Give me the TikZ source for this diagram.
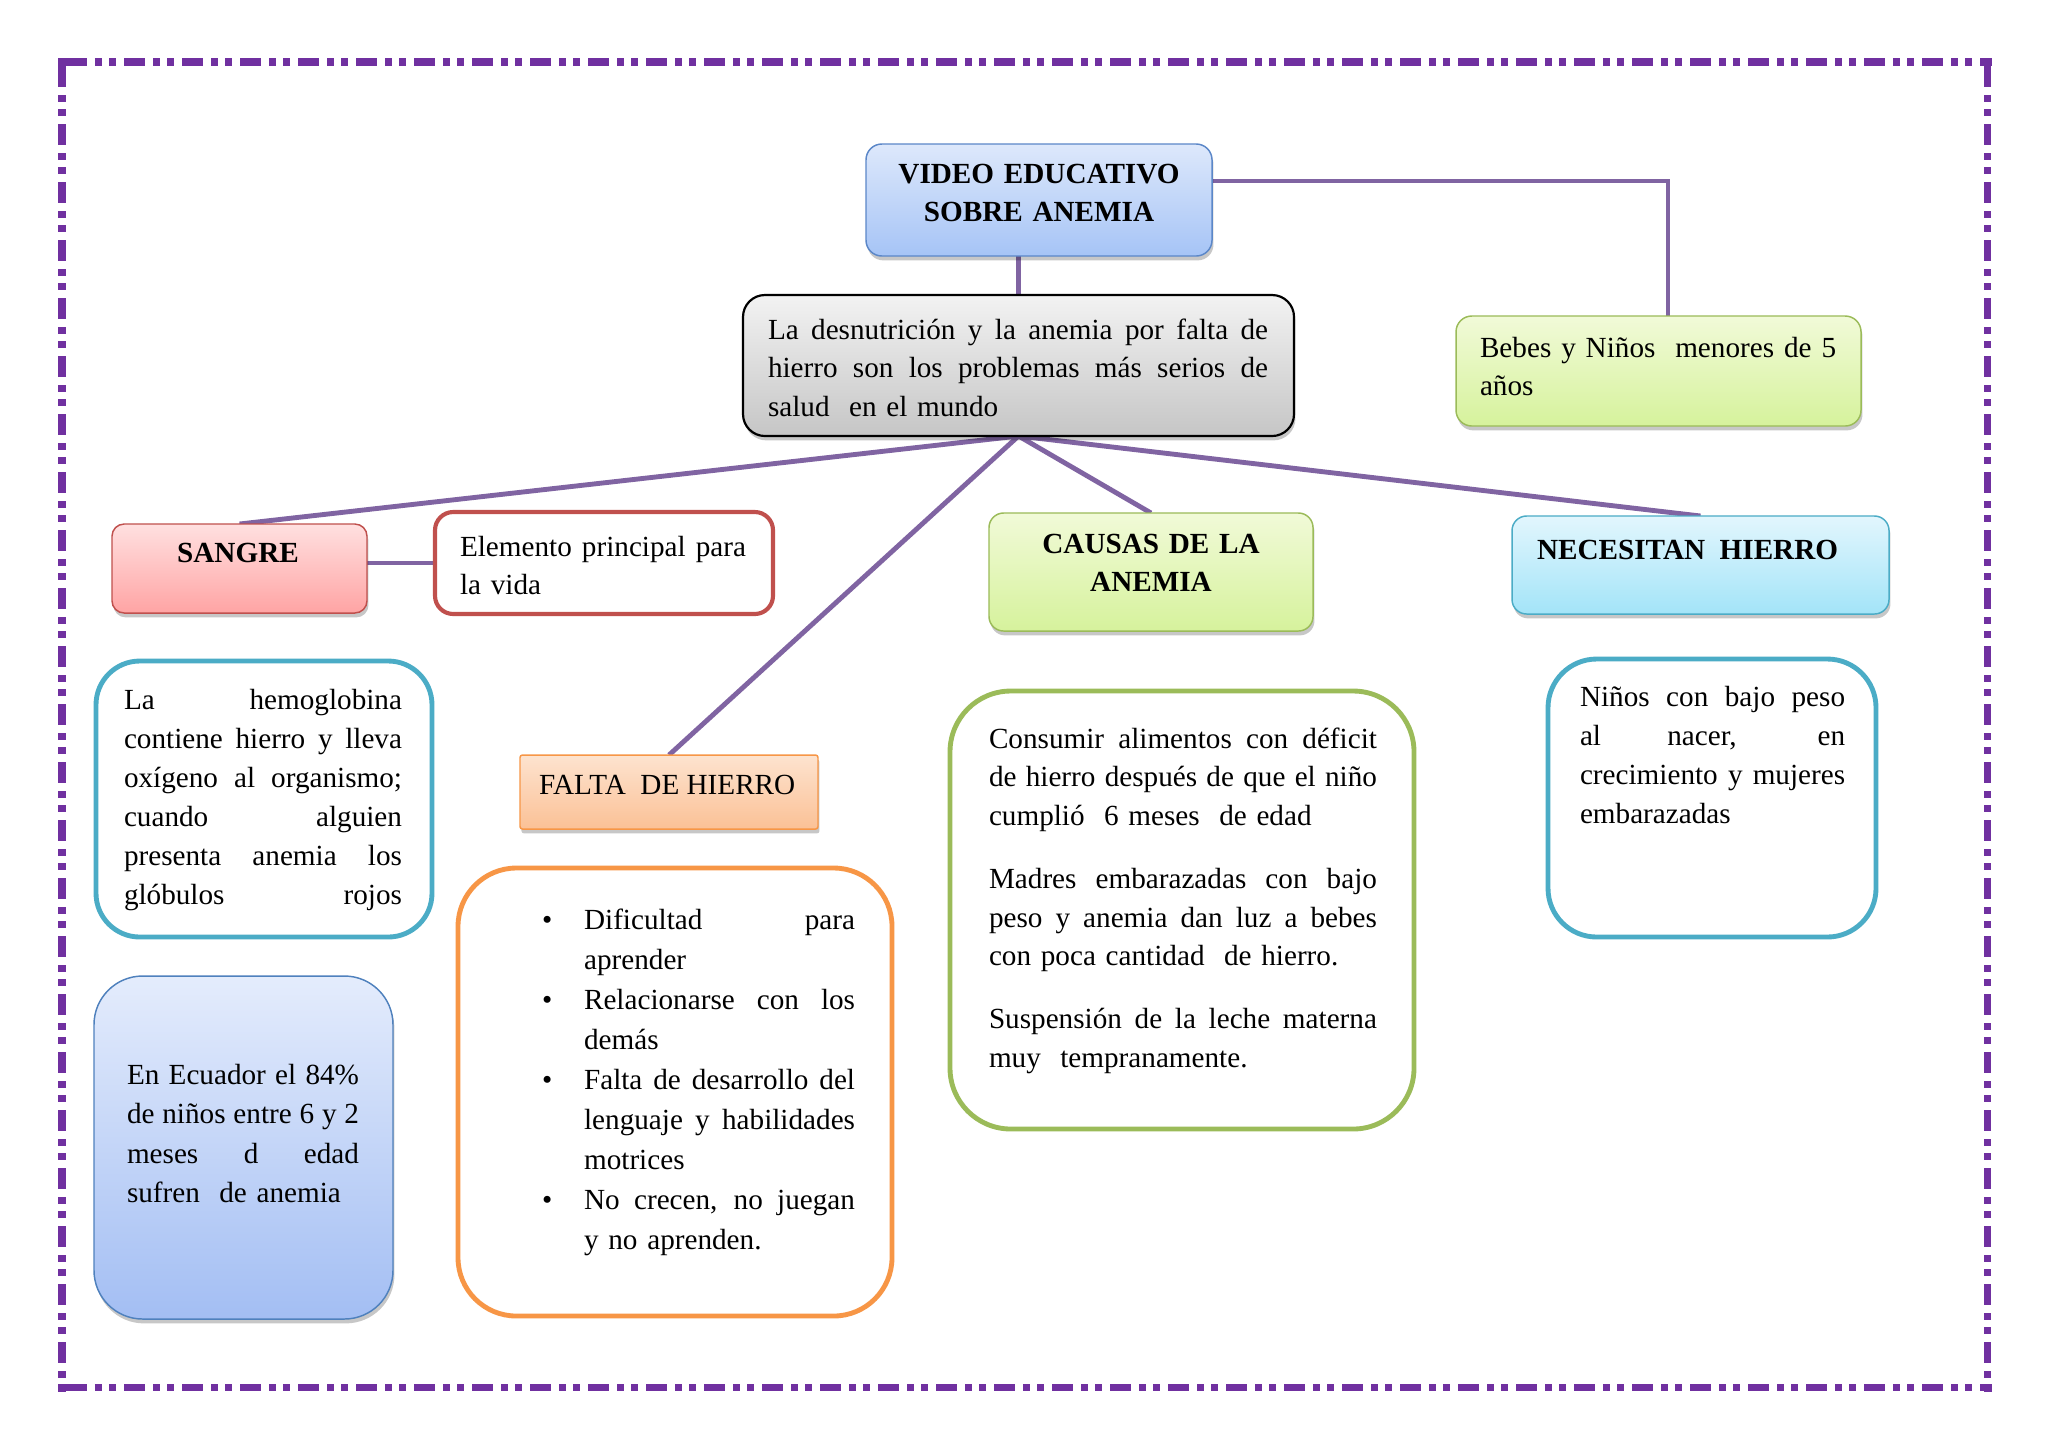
\documentclass[tikz,border=0pt]{standalone}
\usepackage{fontspec}
\setmainfont{Liberation Serif}
\usetikzlibrary{fit,shadows,calc}
\pgfdeclarelayer{paper}
\pgfdeclarelayer{bg}
\pgfsetlayers{paper,bg,main}
\definecolor{framec}{HTML}{7030A0}
\definecolor{connc}{HTML}{8064A2}
\definecolor{vidB}{HTML}{5B87C8}
\definecolor{vidT}{HTML}{DDE8FB}
\definecolor{vidBo}{HTML}{A6C4F6}
\definecolor{grnB}{HTML}{9BBB59}
\definecolor{grnT}{HTML}{F1FAD8}
\definecolor{grnBo}{HTML}{D6F29C}
\definecolor{redB}{HTML}{C0504D}
\definecolor{redT}{HTML}{FFE0E0}
\definecolor{redBo}{HTML}{FFA4A4}
\definecolor{cyanB}{HTML}{4BACC6}
\definecolor{cyanT}{HTML}{E2F6FD}
\definecolor{cyanBo}{HTML}{A3E4F8}
\definecolor{orB}{HTML}{F79646}
\definecolor{orT}{HTML}{FDE3CF}
\definecolor{orBo}{HTML}{FBC196}
\definecolor{ecB}{HTML}{4F81BD}
\definecolor{ecT}{HTML}{E4ECFC}
\definecolor{ecBo}{HTML}{A3BEF3}
\newcommand\jw[2]{{\spaceskip=0.25em plus 1fil\xspaceskip=0.25em plus 1fil\makebox[#1][s]{#2}}}
\newcommand\bul{\makebox[17.3pt][l]{\textbullet}}
\newcommand\ind{\hspace*{17.3pt}}
\tikzset{
  pageframe/.style={draw=framec, line width=3.08pt,
    dash pattern=on 8.63pt off 3.29pt on 2.88pt off 2.88pt on 2.88pt off 3.29pt},
  conn/.style={draw=connc, line width=2pt},
  shd/.style={drop shadow={shadow xshift=0.6pt, shadow yshift=-1.8pt, opacity=0.22, fill=black}},
  fbox/.style={inner sep=0pt, outer sep=0pt, line width=0.6pt},
  obox/.style={inner sep=0pt, outer sep=0pt, line width=2pt, fill=white},
  txt/.style={inner sep=0pt, outer sep=0pt, align=left, anchor=base west,
    font=\fontsize{12}{16}\selectfont},
  ttl/.style={inner sep=0pt, outer sep=0pt, align=center, anchor=base,
    font=\bfseries\fontsize{12}{16}\selectfont},
}
\begin{document}
\begin{tikzpicture}[x=0.41113pt, y=-0.41113pt]
\useasboundingbox (0,0) rectangle (2048,1448);
\begin{pgfonlayer}{paper}
\fill[white] (0,0) rectangle (2048,1448);
\end{pgfonlayer}

% page frame
\draw[pageframe] (66,62) -- (1984,62);
\draw[pageframe] (62,66) -- (62,1384);
\draw[pageframe] (1987.5,66) -- (1987.5,1384);
\draw[pageframe] (66,1387.5) -- (1984,1387.5);
\fill[framec] (58,58) rectangle (66,66);
\fill[framec] (1984,58) rectangle (1991.5,66);
\fill[framec] (58,1384) rectangle (66,1391.5);
\fill[framec] (1984,1384) rectangle (1991.5,1391.5);

% boxes
\node[fbox, shd, fit={(866,144)(1212,256)}, rounded corners=6.5pt, draw=vidB, top color=vidT, bottom color=vidBo] (video) {};
\node[fbox, shd, fit={(743,295)(1294,436)}, rounded corners=9pt, draw=black, line width=0.9pt, top color=gray!10, bottom color=gray!45] (grey) {};
\node[fbox, shd, fit={(1456,316)(1861,426)}, rounded corners=6.5pt, draw=grnB, top color=grnT, bottom color=grnBo] (bebes) {};
\node[fbox, shd, fit={(112,524)(367,613)}, rounded corners=5pt, draw=redB, top color=redT, bottom color=redBo] (sangre) {};
\node[obox, fit={(435,512)(773,614)}, rounded corners=7.5pt, draw=redB, line width=1.7pt] (elem) {};
\node[fbox, shd, fit={(989,513)(1313,631)}, rounded corners=6pt, draw=grnB, top color=grnT, bottom color=grnBo] (causas) {};
\node[fbox, shd, fit={(1512,516)(1889,614)}, rounded corners=6pt, draw=cyanB, top color=cyanT, bottom color=cyanBo] (nec) {};
\node[fbox, shd, fit={(520,755)(818,829)}, rounded corners=1pt, draw=orB, top color=orT, bottom color=orBo] (falta) {};
\node[obox, fit={(96,661)(432,937)}, rounded corners=18pt, draw=cyanB] (hemo) {};
\node[fbox, shd, fit={(94,976)(393,1319)}, rounded corners=20pt, draw=ecB, top color=ecT, bottom color=ecBo] (ecua) {};
\node[obox, fit={(458,868)(892,1316)}, rounded corners=24pt, draw=orB] (lista) {};
\node[obox, fit={(950,691)(1414,1129)}, rounded corners=25pt, draw=grnB] (causT) {};
\node[obox, fit={(1548,659)(1876,937)}, rounded corners=20pt, draw=cyanB] (ninos) {};

% connectors
\begin{pgfonlayer}{bg}
\draw[conn] (video.south -| grey.north) -- (grey.north);
\draw[conn] ([yshift=7.8pt]video.east) -| ([xshift=3.9pt]bebes.north);
\draw[conn] (grey.south) -- (sangre.north);
\draw[conn] (grey.south) -- (falta.north);
\draw[conn] (grey.south) -- (causas.north);
\draw[conn] (grey.south) -- (nec.north);
\draw[conn] (elem.west -| sangre.east) -- (elem.west);
\end{pgfonlayer}

% texts
\node[ttl, text width=142.3pt] (videoTx) at (1039,183) {VIDEO EDUCATIVO\\SOBRE ANEMIA};
\node[txt, text width=205.6pt, font=\fontsize{12}{15.9}\selectfont] (greyTx) at (768,339) {%
\jw{205.6pt}{La desnutrición y la anemia por falta de}\\
\jw{205.6pt}{hierro son los problemas más serios de}\\
salud \ en el mundo};
\node[txt, text width=146.4pt] (bebesTx) at (1480,357) {%
\jw{146.4pt}{Bebes y Niños \ menores de 5}\\
años};
\node[ttl] (sangreTx) at (238,562) {SANGRE};
\node[txt, text width=117.6pt] (elemTx) at (460,556) {%
\jw{117.6pt}{Elemento principal para}\\
la vida};
\node[ttl, text width=133.2pt] (causasTx) at (1151,553) {CAUSAS DE LA\\ANEMIA};
\node[ttl, anchor=base west] (necTx) at (1537,559) {NECESITAN \ HIERRO};
\node[txt] (faltaTx) at (539,794) {FALTA \ DE HIERRO};
\node[txt, text width=114.3pt, font=\fontsize{12}{16.1}\selectfont] (hemoTx) at (124,709) {%
\jw{114.3pt}{La hemoglobina}\\
\jw{114.3pt}{contiene hierro y lleva}\\
\jw{114.3pt}{oxígeno al organismo;}\\
\jw{114.3pt}{cuando alguien}\\
\jw{114.3pt}{presenta anemia los}\\
\jw{114.3pt}{glóbulos rojos}};
\node[txt, text width=95.4pt, font=\fontsize{12}{16.3}\selectfont] (ecuaTx) at (127,1084) {%
\jw{95.4pt}{En Ecuador el 84\%}\\
\jw{95.4pt}{de niños entre 6 y 2}\\
\jw{95.4pt}{meses d edad}\\
sufren \ de anemia};
\node[txt, text width=128.7pt, font=\fontsize{12}{16.45}\selectfont] (listaTx) at (542,929) {%
\bul\jw{111.4pt}{Dificultad para}\\
\ind aprender\\
\bul\jw{111.4pt}{Relacionarse con los}\\
\ind demás\\
\bul\jw{111.4pt}{Falta de desarrollo del}\\
\ind\jw{111.4pt}{lenguaje y habilidades}\\
\ind motrices\\
\bul\jw{111.4pt}{No crecen, no juegan}\\
\ind y no aprenden.};
\node[txt, text width=159.5pt, font=\fontsize{12}{16}\selectfont] (causTx) at (989,748) {%
\jw{159.5pt}{Consumir alimentos con déficit}\\
\jw{159.5pt}{de hierro después de que el niño}\\
cumplió \ 6 meses \ de edad\\[9.6pt]
\jw{159.5pt}{Madres embarazadas con bajo}\\
\jw{159.5pt}{peso y anemia dan luz a bebes}\\
con poca cantidad \ de hierro.\\[9.6pt]
\jw{159.5pt}{Suspensión de la leche materna}\\
muy \ tempranamente.};
\node[txt, text width=109pt, font=\fontsize{12}{16.1}\selectfont] (ninosTx) at (1580,706) {%
\jw{109pt}{Niños con bajo peso}\\
\jw{109pt}{al nacer, en}\\
\jw{109pt}{crecimiento y mujeres}\\
embarazadas};
\end{tikzpicture}
\end{document}
